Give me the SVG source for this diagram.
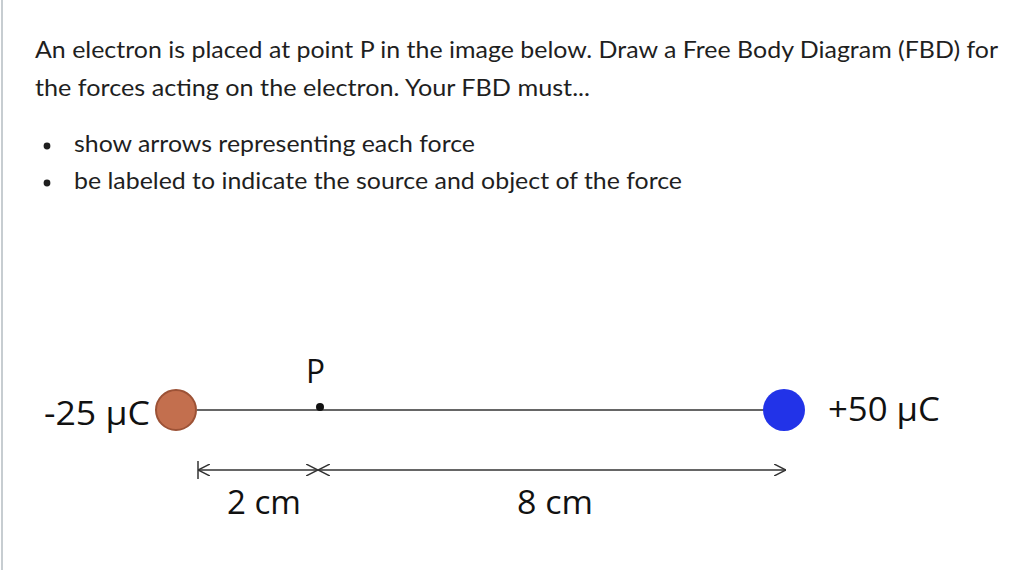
<svg xmlns="http://www.w3.org/2000/svg" width="1024" height="570" viewBox="0 0 1024 570">
<defs>
<style>
.q{font-family:Lato,"Open Sans","Liberation Sans",sans-serif;font-size:24px;fill:#1f1f1f}
.d{font-family:"Open Sans","Liberation Sans",sans-serif;font-size:33px;fill:#111}
.ln{stroke:#333;stroke-width:1.5;fill:none}
</style>
<marker id="op" viewBox="0 0 12 12" refX="12" refY="6" markerWidth="12" markerHeight="12" markerUnits="userSpaceOnUse" orient="auto-start-reverse">
<path d="M0,0 L12,6 L0,12" fill="none" stroke="#333" stroke-width="1.5"/>
</marker>
</defs>
<rect width="1024" height="570" fill="#fff"/>
<line x1="2" y1="0" x2="2" y2="570" stroke="#c7cdd1" stroke-width="2"/>
<g id="question">
<text class="q" x="35" y="58" textLength="963" lengthAdjust="spacingAndGlyphs">An electron is placed at point P in the image below. Draw a Free Body Diagram (FBD) for</text>
<text class="q" x="35" y="96" textLength="555" lengthAdjust="spacingAndGlyphs">the forces acting on the electron. Your FBD must...</text>
<circle cx="47" cy="146" r="3.4" fill="#1f1f1f"/>
<text class="q" x="74" y="152" textLength="401" lengthAdjust="spacingAndGlyphs">show arrows representing each force</text>
<circle cx="47" cy="183" r="3.4" fill="#1f1f1f"/>
<text class="q" x="74" y="189" textLength="608" lengthAdjust="spacingAndGlyphs">be labeled to indicate the source and object of the force</text>
</g>
<g id="connectors">
<line class="ln" x1="197" y1="410" x2="784" y2="410"/>
<line class="ln" x1="198" y1="461" x2="198" y2="479"/>
<line class="ln" x1="198" y1="470" x2="318" y2="470" marker-start="url(#op)" marker-end="url(#op)"/>
<line class="ln" x1="318" y1="470" x2="786" y2="470" marker-start="url(#op)" marker-end="url(#op)"/>
</g>
<g id="neg-charge">
<circle cx="176" cy="410" r="20" fill="#c36f4e" stroke="#9c5236" stroke-width="2"/>
<text class="d" x="44" y="425" textLength="106" lengthAdjust="spacingAndGlyphs">-25 μC</text>
</g>
<g id="point-P">
<circle cx="320" cy="407" r="4" fill="#111"/>
<text class="d" x="306" y="383" textLength="19" lengthAdjust="spacingAndGlyphs">P</text>
</g>
<g id="pos-charge">
<circle cx="784" cy="410" r="21" fill="#2233e8"/>
<text class="d" x="828" y="421" textLength="112" lengthAdjust="spacingAndGlyphs">+50 μC</text>
</g>
<g id="dims">
<text class="d" x="227" y="514" textLength="74" lengthAdjust="spacingAndGlyphs">2 cm</text>
<text class="d" x="517" y="514" textLength="76" lengthAdjust="spacingAndGlyphs">8 cm</text>
</g>
</svg>
